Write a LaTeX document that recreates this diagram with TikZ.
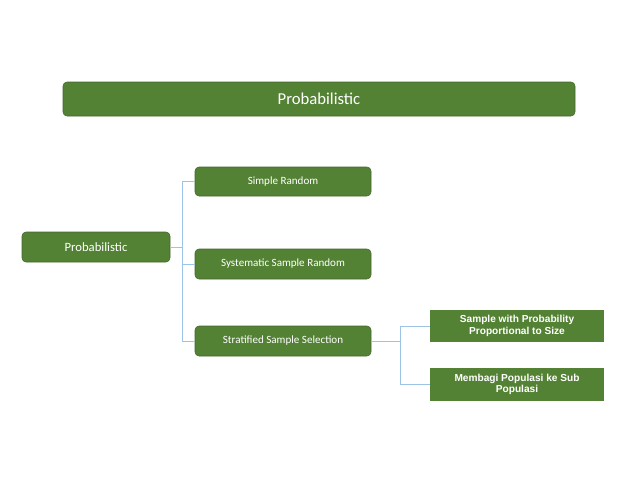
\documentclass[tikz,border=0pt]{standalone}
\usepackage{fontspec}
\setmainfont{Carlito}
\newfontfamily\arialf{Liberation Sans}
\definecolor{gr}{HTML}{548235}
\definecolor{ln}{HTML}{9DC3E6}
\begin{document}
\begin{tikzpicture}[x=0.75pt,y=-0.75pt,
  rbox/.style={fill=gr,draw=gr!80!black,rounded corners=3pt,text=white,inner sep=0pt},
  sbox/.style={fill=gr,text=white,inner sep=0pt,font=\arialf\bfseries\fontsize{7.6}{8.6}\selectfont,align=center},
  conn/.style={draw=ln,line width=0.6pt}]
\useasboundingbox (0,0) rectangle (638,493);
\node[rbox,minimum width=512*0.75pt,minimum height=34*0.75pt,font=\fontsize{12.5}{14}\selectfont] (top) at (319,99) {Probabilistic};
\node[rbox,minimum width=148*0.75pt,minimum height=30*0.75pt,font=\fontsize{9.5}{11}\selectfont] (p) at (96,247) {Probabilistic};
\node[rbox,minimum width=176*0.75pt,minimum height=29*0.75pt,font=\fontsize{8.3}{10}\selectfont] (s1) at (283,181.5) {Simple Random};
\node[rbox,minimum width=176*0.75pt,minimum height=30*0.75pt,font=\fontsize{8.3}{10}\selectfont] (s2) at (283,264) {Systematic Sample Random};
\node[rbox,minimum width=176*0.75pt,minimum height=30*0.75pt,font=\fontsize{8.3}{10}\selectfont] (s3) at (283,341) {Stratified Sample Selection};
\node[sbox,minimum width=174*0.75pt,minimum height=32*0.75pt] (r1) at (517,326) {Sample with Probability\\Proportional to Size};
\node[sbox,minimum width=174*0.75pt,minimum height=33*0.75pt] (r2) at (517,384.5) {Membagi Populasi ke Sub\\Populasi};
\coordinate (j) at (182,247);
\coordinate (k) at (400,341);
\draw[conn] (p.east) -- (j);
\draw[conn] (j) |- (s1.west);
\draw[conn] (j) |- (s2.west);
\draw[conn] (j) |- (s3.west);
\draw[conn] (s3.east) -- (k);
\draw[conn] (k) |- (r1.west);
\draw[conn] (k) |- (r2.west);
\end{tikzpicture}
\end{document}
